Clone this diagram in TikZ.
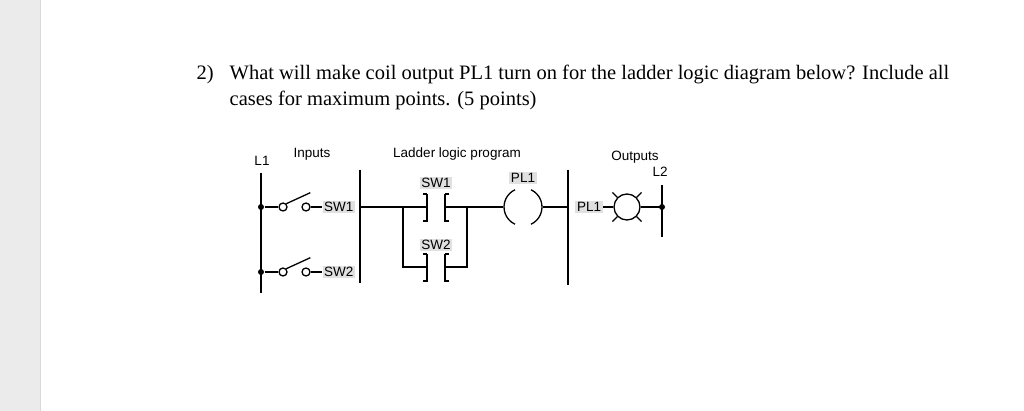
\documentclass[tikz,border=0pt]{standalone}
\usepackage{fontspec}
\setmainfont{Liberation Serif}
\newfontfamily\lsans{Liberation Sans}
\usetikzlibrary{backgrounds}
\tikzstyle{ladder}=[x=1pt, y=-1pt, line width=1.3pt, font=\lsans\fontsize{13.5}{15}\selectfont]
\tikzstyle{lbl}=[inner sep=1.5pt, fill=black!12]
\tikzstyle{txt}=[inner sep=0pt, anchor=base west, font=\fontsize{20.5}{24}\selectfont]
\tikzstyle{dot}=[circle, fill, inner sep=0pt, minimum size=6pt]
\tikzstyle{term}=[circle, draw, fill=white, inner sep=0pt, minimum size=8pt]
\tikzstyle{rail}=[-, line width=1.3pt]
\begin{document}
\begin{tikzpicture}[ladder]
	\useasboundingbox (0,0) rectangle (1024,411);
	\fill[black!8] (0,0) rectangle (40,411);
	\draw[black!15, line width=0.5pt] (40,0) -- (40,411);
	%
	\node[txt] (qn) at (196,80) {2)};
	\node[txt] (q1) at (229,80) {What will make coil output PL1 turn on for the ladder logic diagram below? Include all};
	\node[txt] (q2) at (229,106) {cases for maximum points. (5 points)};
	%
	\node (l1) at (262,161) {L1};
	\node (in) at (312,154) {Inputs};
	\node (prog) at (457,154) {Ladder logic program};
	\node (out) at (635,157) {Outputs};
	\node (l2) at (660,172) {L2};
	%
	\coordinate (l1t) at (261,173);
	\coordinate (l1b) at (261,293);
	\draw[rail] (l1t) -- (l1b);
	\coordinate (r2t) at (360,170);
	\coordinate (r2b) at (360,283);
	\draw[rail] (r2t) -- (r2b);
	\coordinate (r3t) at (568,170);
	\coordinate (r3b) at (568,285);
	\draw[rail] (r3t) -- (r3b);
	\coordinate (l2t) at (662,185);
	\coordinate (l2b) at (662,237);
	\draw[rail] (l2t) -- (l2b);
	%
	\foreach \y/\n in {207/1, 272/2} {
		\node[dot] (d\n) at (261,\y) {};
		\node[term] (a\n) at (283,\y) {};
		\node[term] (b\n) at (306,\y) {};
		\node[lbl, anchor=west] (s\n) at (322,\y) {SW\n};
		\draw (d\n) -- (a\n);
		\draw (b\n) -- (s\n);
		\draw (a\n.north east) -- ++(24,-11);
	}
	%
	\coordinate (j1) at (403,207);
	\coordinate (j2) at (467,207);
	\coordinate (j3) at (403,267);
	\coordinate (j4) at (467,267);
	\foreach \y/\n in {207/1, 267/2} {
		\coordinate (cl\n) at (427,\y);
		\coordinate (cr\n) at (445,\y);
		\draw (427,\y-13) -- ++(-4,0) (427,\y-13) -- (427,\y+14) -- ++(-4,0);
		\draw (445,\y-13) -- ++(4,0) (445,\y-13) -- (445,\y+14) -- ++(4,0);
	}
	\draw (360,207) -- (cl1);
	\draw (j1) -- (j3) -- (cl2);
	\draw (cr2) -- (j4) -- (j2);
	\node[lbl] (c1) at (436,183) {SW1};
	\node[lbl] (c2) at (436,245) {SW2};
	%
	\node[circle, minimum size=38pt, inner sep=0pt] (coil) at (523,207) {};
	\draw (coil.west) -- (cr1);
	\draw (coil.east) -- (568,207);
	\draw (523,207) ++(115:19) arc (115:245:19);
	\draw (523,207) ++(-65:19) arc (-65:65:19);
	\node[lbl] (pc) at (523,178) {PL1};
	%
	\node[lbl] (pl) at (589,207) {PL1};
	\node[circle, draw, minimum size=26pt, inner sep=0pt] (lamp) at (627,207) {};
	\draw (pl) -- (lamp);
	\draw (lamp) -- (662,207);
	\node[dot] (d3) at (662,207) {};
	\foreach \a in {45,135,225,315}
		\draw (lamp.\a) -- ++(-\a:7);
\end{tikzpicture}
\end{document}
